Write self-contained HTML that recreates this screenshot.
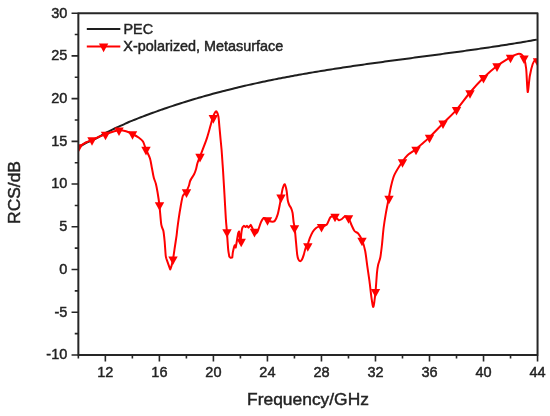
<!DOCTYPE html><html><head><meta charset="utf-8"><title>RCS chart</title><style>html,body{margin:0;padding:0;background:#fff;}svg{display:block;}text{font-family:"Liberation Sans",Arial,sans-serif;fill:#232323;stroke:#232323;stroke-width:0.45px;}</style></head><body>
<svg width="550" height="416" viewBox="0 0 550 416">
<rect width="550" height="416" fill="#fff"/>
<defs><clipPath id="pa"><rect x="78.35" y="13.20" width="459.20" height="341.75"/></clipPath></defs>
<g clip-path="url(#pa)">
<path d="M72.00 151.50 C73.08 150.82 76.20 148.82 78.50 147.40 C80.80 145.98 83.55 144.17 85.80 143.00 C88.05 141.83 89.80 141.43 92.00 140.40 C94.20 139.37 96.86 137.99 99.00 136.80 C101.14 135.61 103.21 134.19 104.85 133.28 C106.49 132.37 107.52 132.00 108.85 131.36 C110.18 130.72 111.52 130.06 112.85 129.42 C114.18 128.78 115.52 128.15 116.85 127.52 C118.18 126.89 119.52 126.27 120.85 125.65 C122.18 125.03 123.52 124.40 124.85 123.80 C126.18 123.20 127.52 122.59 128.85 122.03 C130.18 121.47 131.52 120.94 132.85 120.41 C134.18 119.88 135.52 119.34 136.85 118.82 C138.18 118.30 139.52 117.78 140.85 117.27 C142.18 116.76 143.52 116.24 144.85 115.74 C146.18 115.23 147.52 114.73 148.85 114.24 C150.18 113.74 151.52 113.25 152.85 112.77 C154.18 112.28 155.52 111.81 156.85 111.33 C158.18 110.85 159.52 110.38 160.85 109.91 C162.18 109.44 163.52 108.99 164.85 108.53 C166.18 108.07 167.52 107.61 168.85 107.16 C170.18 106.71 171.52 106.27 172.85 105.83 C174.18 105.39 175.52 104.95 176.85 104.52 C178.18 104.09 179.52 103.66 180.85 103.24 C182.18 102.82 183.52 102.40 184.85 101.98 C186.18 101.56 187.52 101.15 188.85 100.74 C190.18 100.33 191.52 99.93 192.85 99.53 C194.18 99.13 195.52 98.74 196.85 98.35 C198.18 97.96 199.52 97.56 200.85 97.18 C202.18 96.80 203.52 96.42 204.85 96.04 C206.18 95.67 207.52 95.30 208.85 94.93 C210.18 94.56 211.52 94.19 212.85 93.83 C214.18 93.47 215.52 93.12 216.85 92.76 C218.18 92.41 219.52 92.05 220.85 91.70 C222.18 91.35 223.52 91.01 224.85 90.67 C226.18 90.33 227.52 89.99 228.85 89.66 C230.18 89.33 231.52 89.00 232.85 88.67 C234.18 88.34 235.52 88.02 236.85 87.70 C238.18 87.38 239.52 87.06 240.85 86.75 C242.18 86.44 243.52 86.12 244.85 85.81 C246.18 85.50 247.52 85.19 248.85 84.89 C250.18 84.59 251.52 84.30 252.85 84.00 C254.18 83.70 255.52 83.41 256.85 83.12 C258.18 82.83 259.52 82.53 260.85 82.25 C262.18 81.97 263.52 81.69 264.85 81.41 C266.18 81.13 267.52 80.84 268.85 80.57 C270.18 80.29 271.52 80.03 272.85 79.76 C274.18 79.49 275.52 79.22 276.85 78.96 C278.18 78.69 279.52 78.43 280.85 78.17 C282.18 77.91 283.52 77.65 284.85 77.40 C286.18 77.15 287.52 76.90 288.85 76.65 C290.18 76.40 291.52 76.15 292.85 75.90 C294.18 75.65 295.52 75.41 296.85 75.17 C298.18 74.93 299.52 74.70 300.85 74.46 C302.18 74.22 303.52 73.98 304.85 73.75 C306.18 73.52 307.52 73.29 308.85 73.06 C310.18 72.83 311.52 72.60 312.85 72.38 C314.18 72.16 315.52 71.93 316.85 71.71 C318.18 71.49 319.52 71.27 320.85 71.05 C322.18 70.83 323.52 70.62 324.85 70.40 C326.18 70.19 327.52 69.97 328.85 69.76 C330.18 69.55 331.52 69.34 332.85 69.13 C334.18 68.92 335.52 68.72 336.85 68.51 C338.18 68.31 339.52 68.10 340.85 67.90 C342.18 67.70 343.52 67.50 344.85 67.30 C346.18 67.10 347.52 66.90 348.85 66.70 C350.18 66.50 351.52 66.31 352.85 66.11 C354.18 65.91 355.52 65.72 356.85 65.53 C358.18 65.34 359.52 65.14 360.85 64.95 C362.18 64.76 363.52 64.57 364.85 64.38 C366.18 64.19 367.52 64.01 368.85 63.82 C370.18 63.63 371.52 63.45 372.85 63.26 C374.18 63.07 375.52 62.89 376.85 62.71 C378.18 62.53 379.52 62.34 380.85 62.16 C382.18 61.98 383.52 61.79 384.85 61.61 C386.18 61.43 387.52 61.25 388.85 61.07 C390.18 60.89 391.52 60.71 392.85 60.53 C394.18 60.35 395.52 60.17 396.85 59.99 C398.18 59.81 399.52 59.64 400.85 59.46 C402.18 59.28 403.52 59.11 404.85 58.93 C406.18 58.75 407.52 58.58 408.85 58.40 C410.18 58.22 411.52 58.05 412.85 57.87 C414.18 57.69 415.52 57.52 416.85 57.34 C418.18 57.16 419.52 56.99 420.85 56.81 C422.18 56.63 423.52 56.46 424.85 56.28 C426.18 56.10 427.52 55.93 428.85 55.75 C430.18 55.57 431.52 55.40 432.85 55.22 C434.18 55.04 435.52 54.86 436.85 54.68 C438.18 54.50 439.52 54.33 440.85 54.15 C442.18 53.97 443.52 53.79 444.85 53.61 C446.18 53.43 447.52 53.25 448.85 53.07 C450.18 52.89 451.52 52.71 452.85 52.53 C454.18 52.35 455.52 52.16 456.85 51.98 C458.18 51.80 459.52 51.62 460.85 51.43 C462.18 51.24 463.52 51.06 464.85 50.87 C466.18 50.68 467.52 50.50 468.85 50.31 C470.18 50.12 471.52 49.94 472.85 49.75 C474.18 49.56 475.52 49.37 476.85 49.18 C478.18 48.99 479.52 48.80 480.85 48.60 C482.18 48.41 483.52 48.21 484.85 48.01 C486.18 47.81 487.52 47.62 488.85 47.42 C490.18 47.22 491.52 47.02 492.85 46.82 C494.18 46.62 495.52 46.42 496.85 46.22 C498.18 46.02 499.52 45.81 500.85 45.60 C502.18 45.39 503.52 45.19 504.85 44.98 C506.18 44.77 507.52 44.56 508.85 44.35 C510.18 44.14 511.52 43.92 512.85 43.70 C514.18 43.48 515.52 43.27 516.85 43.05 C518.18 42.83 519.52 42.61 520.85 42.39 C522.18 42.17 523.52 41.95 524.85 41.72 C526.18 41.49 527.52 41.26 528.85 41.03 C530.18 40.80 531.52 40.56 532.85 40.33 C534.18 40.10 536.18 39.75 536.85 39.63" fill="none" stroke="#1e1e1e" stroke-width="2" stroke-linejoin="round"/>
<path d="M72.00 151.00 C72.87 150.47 76.66 148.13 78.50 147.00 C80.34 145.87 84.00 143.43 85.80 142.50 C87.60 141.57 90.24 140.76 92.00 140.00 C93.76 139.24 97.20 137.53 99.00 136.80 C100.80 136.07 103.77 135.14 105.50 134.50 C107.23 133.86 110.20 132.56 112.00 132.00 C113.80 131.44 117.13 130.41 119.00 130.30 C120.87 130.19 124.20 130.71 126.00 131.20 C127.80 131.69 130.77 133.12 132.50 134.00 C134.23 134.88 137.60 136.80 139.00 137.80 C140.40 138.80 142.07 139.94 143.00 141.50 C143.93 143.06 145.07 147.23 146.00 149.50 C146.93 151.77 149.21 156.03 150.00 158.50 C150.79 160.97 151.39 165.44 151.90 168.00 C152.41 170.56 153.28 175.63 153.80 177.70 C154.32 179.77 155.31 181.59 155.80 183.50 C156.29 185.41 157.02 189.13 157.50 192.00 C157.98 194.87 158.89 200.64 159.40 205.00 C159.91 209.36 160.77 221.23 161.30 224.70 C161.83 228.17 162.96 228.83 163.40 231.00 C163.84 233.17 164.29 237.73 164.60 241.00 C164.91 244.27 165.46 253.14 165.70 255.50 C165.94 257.86 166.17 257.63 166.40 258.70 C167.03 260.53 167.79 262.76 168.30 264.20 C168.81 265.64 169.57 267.73 170.20 269.50 C170.63 268.33 171.13 267.33 171.50 266.00 C171.87 264.67 172.53 262.17 173.00 259.50 C173.47 256.83 174.52 249.21 175.00 246.00 C175.48 242.79 176.29 237.67 176.60 235.40 C176.91 233.13 177.02 231.24 177.30 229.00 C177.58 226.76 178.25 221.63 178.70 218.60 C179.15 215.57 180.15 209.31 180.70 206.30 C181.25 203.29 182.09 197.91 182.80 196.00 C183.51 194.09 185.20 193.33 186.00 192.00 C186.80 190.67 188.27 187.43 188.80 186.00 C189.33 184.57 189.65 182.29 190.00 181.30 C190.35 180.31 190.84 179.57 191.40 178.60 C191.96 177.63 193.59 175.25 194.20 174.00 C194.81 172.75 195.56 170.67 196.00 169.20 C196.44 167.73 196.97 164.69 197.50 163.00 C198.03 161.31 198.80 159.65 200.00 156.50 C201.20 153.35 205.11 143.47 206.50 139.40 C207.89 135.33 209.56 128.95 210.40 126.00 C211.24 123.05 212.19 119.10 212.80 117.30 C213.41 115.50 214.51 113.27 215.00 112.50 C215.49 111.73 216.05 110.97 216.50 111.50 C216.95 112.03 218.01 114.50 218.40 116.50 C218.79 118.50 219.12 123.57 219.40 126.50 C219.68 129.43 220.21 135.37 220.50 138.50 C220.79 141.63 221.36 147.13 221.60 150.00 C221.84 152.87 222.11 157.33 222.30 160.00 C222.49 162.67 222.83 167.33 223.00 170.00 C223.17 172.67 223.40 176.67 223.60 180.00 C223.80 183.33 224.21 189.93 224.50 195.00 C224.79 200.07 225.52 213.60 225.80 218.00 C226.08 222.40 226.44 226.00 226.60 228.00 C226.76 230.00 226.79 230.12 227.00 233.00 C227.21 235.88 227.89 246.47 228.20 249.60 C228.51 252.73 228.93 254.20 229.30 256.50 C229.70 256.93 230.10 257.67 230.50 257.80 C230.90 257.93 231.70 257.60 232.30 257.50 C232.47 255.90 232.60 253.98 232.80 252.70 C233.00 251.42 233.55 248.90 233.80 247.90 C234.05 246.90 234.40 246.10 234.70 245.20 C235.03 245.97 235.37 246.73 235.70 247.50 C236.03 245.67 236.38 243.87 236.70 242.00 C237.02 240.13 237.79 234.90 238.10 233.50 C238.41 232.10 238.70 232.17 239.00 231.50 C239.50 235.33 240.00 239.17 240.50 243.00 C240.83 239.33 241.25 234.04 241.50 232.00 C241.75 229.96 242.08 228.53 242.40 227.70 C242.72 226.87 243.40 226.43 243.90 225.80 C244.43 226.20 244.97 226.60 245.50 227.00 C246.00 226.63 246.50 226.27 247.00 225.90 C247.50 226.47 248.00 227.03 248.50 227.60 C249.27 226.70 250.03 225.80 250.80 224.90 C251.37 226.10 252.01 227.29 252.50 228.50 C252.99 229.71 253.83 232.17 254.50 234.00 C255.17 233.67 256.03 233.47 256.50 233.00 C256.97 232.53 257.40 231.94 258.00 230.50 C258.60 229.06 260.23 223.87 261.00 222.20 C261.77 220.53 262.93 218.32 263.80 218.00 C264.67 217.68 266.54 219.32 267.50 219.80 C268.46 220.28 270.04 221.44 271.00 221.60 C271.96 221.76 273.81 221.96 274.70 221.00 C275.59 220.04 276.99 216.72 277.70 214.40 C278.41 212.08 279.56 205.88 280.00 203.60 C280.44 201.32 280.64 199.31 281.00 197.30 C281.36 195.29 282.21 190.25 282.70 188.50 C283.19 186.75 284.18 183.89 284.70 184.20 C285.22 184.51 286.19 188.63 286.60 190.80 C287.01 192.97 287.45 198.61 287.80 200.50 C288.15 202.39 288.75 203.96 289.20 205.00 C289.65 206.04 290.75 207.23 291.20 208.30 C291.65 209.37 292.28 211.17 292.60 213.00 C292.92 214.83 293.32 220.00 293.60 222.00 C293.88 224.00 294.38 225.33 294.70 228.00 C295.02 230.67 295.67 238.45 296.00 242.00 C296.33 245.55 296.88 252.28 297.20 254.60 C297.52 256.92 298.00 258.52 298.40 259.40 C298.80 260.28 299.72 261.17 300.20 261.20 C300.68 261.23 301.52 260.48 302.00 259.60 C302.48 258.72 303.32 256.15 303.80 254.60 C304.28 253.05 305.07 249.41 305.60 248.00 C306.13 246.59 307.24 245.31 307.80 244.00 C308.36 242.69 309.13 239.83 309.80 238.20 C310.47 236.57 312.00 233.13 312.80 231.80 C313.60 230.47 315.00 228.89 315.80 228.20 C316.60 227.51 318.05 226.80 318.80 226.60 C319.55 226.40 320.33 226.98 321.40 226.70 C322.47 226.42 325.60 225.77 326.80 224.50 C328.00 223.23 329.36 218.25 330.40 217.20 C331.44 216.15 333.47 216.20 334.60 216.60 C335.73 217.00 337.93 219.88 338.90 220.20 C339.87 220.52 341.10 219.51 341.90 219.00 C342.70 218.49 344.02 216.53 344.90 216.40 C345.78 216.27 347.62 216.85 348.50 218.00 C349.38 219.15 350.70 223.27 351.50 225.00 C352.30 226.73 353.59 229.85 354.50 231.00 C355.41 232.15 357.27 232.33 358.30 233.60 C359.33 234.87 361.28 238.18 362.20 240.50 C363.12 242.82 364.52 247.59 365.20 251.00 C365.88 254.41 366.73 262.06 367.30 266.10 C367.87 270.14 368.93 276.97 369.50 281.30 C370.07 285.63 371.08 295.20 371.60 298.60 C372.12 302.00 372.88 307.71 373.40 306.80 C373.92 305.89 375.02 296.36 375.50 291.80 C375.98 287.24 376.65 276.17 377.00 272.60 C377.35 269.03 377.66 267.01 378.10 265.00 C378.54 262.99 379.78 260.23 380.30 257.50 C380.82 254.77 381.56 248.43 382.00 244.50 C382.44 240.57 383.09 232.12 383.60 228.00 C384.11 223.88 385.13 217.48 385.80 213.60 C386.47 209.72 387.88 202.65 388.60 198.90 C389.32 195.15 390.41 188.73 391.20 185.50 C391.99 182.27 393.05 177.83 394.50 174.70 C395.95 171.57 400.37 164.60 402.10 162.00 C403.83 159.40 405.69 156.87 407.50 155.20 C409.31 153.53 413.82 150.95 415.70 149.50 C417.58 148.05 419.81 145.89 421.60 144.30 C423.39 142.71 426.23 140.40 429.10 137.60 C431.97 134.80 439.45 127.01 443.10 123.30 C446.75 119.59 452.97 113.84 456.50 109.80 C460.03 105.76 466.00 97.27 469.60 93.00 C473.20 88.73 479.90 81.37 483.50 77.80 C487.10 74.23 493.08 68.89 496.60 66.20 C500.12 63.51 507.31 59.15 509.90 57.60 C512.49 56.05 514.79 55.11 516.00 54.60 C517.21 54.09 518.27 53.80 519.00 53.80 C519.73 53.80 520.82 54.00 521.50 54.60 C522.18 55.20 523.47 56.38 524.10 58.30 C524.73 60.22 525.72 64.51 526.20 69.00 C526.68 73.49 527.22 91.07 527.70 92.00 C528.18 92.93 529.13 79.73 529.80 76.00 C530.47 72.27 531.93 66.20 532.70 64.00 C533.47 61.80 534.96 59.90 535.60 59.50 C536.24 59.10 536.25 61.20 537.50 61.00 C538.75 60.80 544.00 58.40 545.00 58.00" fill="none" stroke="#ff0000" stroke-width="2" stroke-linejoin="round"/>
<g fill="#ff0000">
<polygon points="73.80,144.13 83.20,144.13 78.50,152.73"/>
<polygon points="87.30,137.13 96.70,137.13 92.00,145.73"/>
<polygon points="100.80,131.63 110.20,131.63 105.50,140.23"/>
<polygon points="114.30,127.43 123.70,127.43 119.00,136.03"/>
<polygon points="127.80,131.13 137.20,131.13 132.50,139.73"/>
<polygon points="141.30,146.83 150.70,146.83 146.00,155.43"/>
<polygon points="154.80,202.13 164.20,202.13 159.50,210.73"/>
<polygon points="168.30,256.43 177.70,256.43 173.00,265.03"/>
<polygon points="181.80,189.33 191.20,189.33 186.50,197.93"/>
<polygon points="195.30,153.83 204.70,153.83 200.00,162.43"/>
<polygon points="208.60,115.03 218.00,115.03 213.30,123.63"/>
<polygon points="222.30,229.13 231.70,229.13 227.00,237.73"/>
<polygon points="236.50,238.73 245.90,238.73 241.20,247.33"/>
<polygon points="249.80,228.83 259.20,228.83 254.50,237.43"/>
<polygon points="262.80,217.13 272.20,217.13 267.50,225.73"/>
<polygon points="276.30,194.43 285.70,194.43 281.00,203.03"/>
<polygon points="289.80,225.13 299.20,225.13 294.50,233.73"/>
<polygon points="303.10,243.13 312.50,243.13 307.80,251.73"/>
<polygon points="316.80,223.93 326.20,223.93 321.50,232.53"/>
<polygon points="330.30,213.73 339.70,213.73 335.00,222.33"/>
<polygon points="343.80,215.13 353.20,215.13 348.50,223.73"/>
<polygon points="357.30,237.73 366.70,237.73 362.00,246.33"/>
<polygon points="370.80,288.93 380.20,288.93 375.50,297.53"/>
<polygon points="384.30,195.63 393.70,195.63 389.00,204.23"/>
<polygon points="397.80,159.13 407.20,159.13 402.50,167.73"/>
<polygon points="411.30,146.73 420.70,146.73 416.00,155.33"/>
<polygon points="424.80,134.73 434.20,134.73 429.50,143.33"/>
<polygon points="438.30,120.43 447.70,120.43 443.00,129.03"/>
<polygon points="451.80,106.93 461.20,106.93 456.50,115.53"/>
<polygon points="465.30,90.13 474.70,90.13 470.00,98.73"/>
<polygon points="478.80,74.93 488.20,74.93 483.50,83.53"/>
<polygon points="492.30,63.33 501.70,63.33 497.00,71.93"/>
<polygon points="505.80,54.73 515.20,54.73 510.50,63.33"/>
<polygon points="519.30,55.43 528.70,55.43 524.00,64.03"/>
<polygon points="532.80,58.13 542.20,58.13 537.50,66.73"/>
</g></g>
<rect x="78.35" y="13.20" width="459.20" height="341.75" fill="none" stroke="#262626" stroke-width="2" stroke-linejoin="round"/>
<path d="M78.35 354.95V358.55 M105.36 354.95V361.45 M132.37 354.95V358.55 M159.39 354.95V361.45 M186.40 354.95V358.55 M213.41 354.95V361.45 M240.42 354.95V358.55 M267.43 354.95V361.45 M294.44 354.95V358.55 M321.46 354.95V361.45 M348.47 354.95V358.55 M375.48 354.95V361.45 M402.49 354.95V358.55 M429.50 354.95V361.45 M456.51 354.95V358.55 M483.53 354.95V361.45 M510.54 354.95V358.55 M537.55 354.95V361.45 M78.35 354.95H71.55 M78.35 333.59H74.75 M78.35 312.23H71.55 M78.35 290.87H74.75 M78.35 269.51H71.55 M78.35 248.15H74.75 M78.35 226.79H71.55 M78.35 205.43H74.75 M78.35 184.07H71.55 M78.35 162.72H74.75 M78.35 141.36H71.55 M78.35 120.00H74.75 M78.35 98.64H71.55 M78.35 77.28H74.75 M78.35 55.92H71.55 M78.35 34.56H74.75 M78.35 13.20H71.55" stroke="#262626" stroke-width="1.6" fill="none"/>
<text x="105.36" y="376.8" font-size="14.5" text-anchor="middle">12</text>
<text x="159.39" y="376.8" font-size="14.5" text-anchor="middle">16</text>
<text x="213.41" y="376.8" font-size="14.5" text-anchor="middle">20</text>
<text x="267.43" y="376.8" font-size="14.5" text-anchor="middle">24</text>
<text x="321.46" y="376.8" font-size="14.5" text-anchor="middle">28</text>
<text x="375.48" y="376.8" font-size="14.5" text-anchor="middle">32</text>
<text x="429.50" y="376.8" font-size="14.5" text-anchor="middle">36</text>
<text x="483.53" y="376.8" font-size="14.5" text-anchor="middle">40</text>
<text x="537.55" y="376.8" font-size="14.5" text-anchor="middle">44</text>
<text x="67.3" y="359.35" font-size="14.5" text-anchor="end">-10</text>
<text x="67.3" y="316.63" font-size="14.5" text-anchor="end">-5</text>
<text x="67.3" y="273.91" font-size="14.5" text-anchor="end">0</text>
<text x="67.3" y="231.19" font-size="14.5" text-anchor="end">5</text>
<text x="67.3" y="188.47" font-size="14.5" text-anchor="end">10</text>
<text x="67.3" y="145.76" font-size="14.5" text-anchor="end">15</text>
<text x="67.3" y="103.04" font-size="14.5" text-anchor="end">20</text>
<text x="67.3" y="60.32" font-size="14.5" text-anchor="end">25</text>
<text x="67.3" y="17.60" font-size="14.5" text-anchor="end">30</text>
<text x="308" y="405.2" font-size="17.4" text-anchor="middle">Frequency/GHz</text>
<text transform="translate(19.6,192.5) rotate(-90)" font-size="17.4" text-anchor="middle">RCS/dB</text>
<line x1="86.8" y1="28.9" x2="120.3" y2="28.9" stroke="#1e1e1e" stroke-width="2"/>
<line x1="86.8" y1="46.5" x2="120.3" y2="46.5" stroke="#ff0000" stroke-width="2"/>
<polygon fill="#ff0000" points="98.90,43.53 108.30,43.53 103.60,52.13"/>
<text x="123.5" y="33.5" font-size="14.4">PEC</text>
<text x="123.3" y="51.4" font-size="14.4">X-polarized, Metasurface</text>
</svg></body></html>
